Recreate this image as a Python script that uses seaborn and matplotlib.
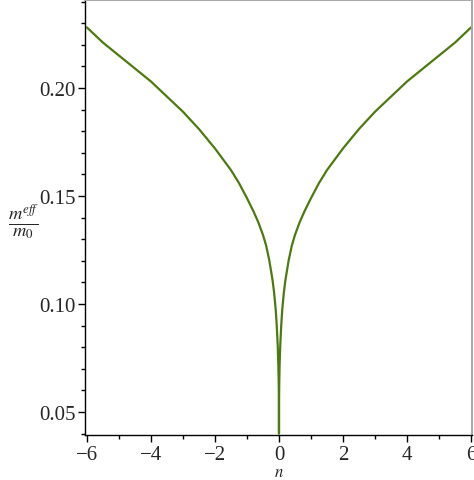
import numpy as np
import matplotlib
matplotlib.use("Agg")
import matplotlib.pyplot as plt
import seaborn as sns
from matplotlib.ticker import MultipleLocator

sns.set_style("white")
plt.rcParams['font.family'] = ['Liberation Serif', 'DejaVu Serif']
plt.rcParams['mathtext.fontset'] = 'stix'

n_right = [0.0, 0.001, 0.004, 0.01, 0.02, 0.04, 0.07, 0.1, 0.15, 0.2, 0.3, 0.4, 0.5, 0.65, 0.8, 1.0, 1.25, 1.5, 1.75, 2.0, 2.5, 3.0, 3.5, 4.0, 4.5, 5.0, 5.5, 6.0]
m_right = [0.040, 0.050, 0.058, 0.065, 0.072, 0.081, 0.090, 0.097, 0.105, 0.111, 0.120, 0.127, 0.132, 0.138, 0.143, 0.149, 0.156, 0.162, 0.167, 0.172, 0.181, 0.189, 0.196, 0.203, 0.209, 0.215, 0.221, 0.228]
n_vals = [-v for v in n_right[::-1]] + n_right[1:]
m_vals = m_right[::-1] + m_right[1:]

fig = plt.figure(figsize=(4.74, 4.81), dpi=100)
ax = fig.add_axes([85/474, 1 - 436/481, (472-85)/474, (436-1)/481])
sns.lineplot(x=n_vals, y=m_vals, ax=ax, color="#4d7a0f", linewidth=1.6, sort=False)
ax.set_xlim(-6.06, 6.03)
ax.set_ylim(0.0394, 0.2407)
ax.set_xticks([-6, -4, -2, 0, 2, 4, 6])
ax.set_xticklabels(["\u22126", "\u22124", "\u22122", "0", "2", "4", "6"])
ax.set_yticks([0.05, 0.10, 0.15, 0.20])
ax.set_yticklabels(["0.05", "0.10", "0.15", "0.20"])
ax.xaxis.set_minor_locator(MultipleLocator(1))
ax.yaxis.set_minor_locator(MultipleLocator(0.01))
ax.tick_params(which='major', direction='out', length=5, width=1, labelsize=15, left=True, bottom=True, color='black', pad=2)
ax.tick_params(which='minor', direction='out', length=3, width=1, left=True, bottom=True, color='black')
for s in ['left', 'bottom']:
    ax.spines[s].set_color('black'); ax.spines[s].set_linewidth(1)
for s in ['top', 'right']:
    ax.spines[s].set_color('#aaaaaa'); ax.spines[s].set_linewidth(1.5)
ax.set_xlabel(r"$n$", fontsize=12, labelpad=0)
fig.text(24/474, 1 - 222/481, r"$\frac{m^{eff}}{m_0}$", fontsize=19, ha='center', va='center')
fig.savefig("out.png", dpi=100)
